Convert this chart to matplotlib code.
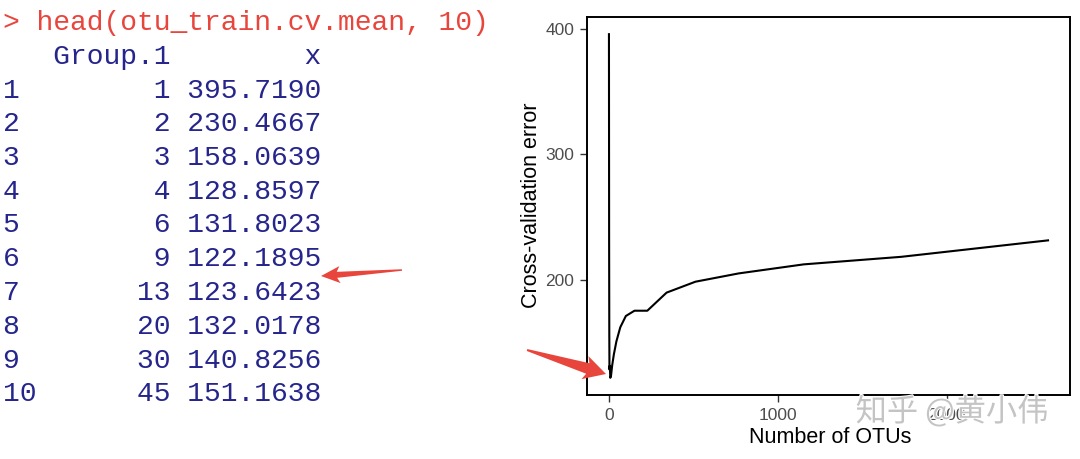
import matplotlib
matplotlib.use("Agg")
import numpy as np
import matplotlib.pyplot as plt
import matplotlib.patheffects as pe
from matplotlib.patches import Polygon

# rfcv 結果: 變量數 vs 交叉驗證誤差
n_otus = [1, 2, 3, 4, 6, 9, 13, 20, 30, 45,
          68, 101, 152, 228, 342, 513, 769, 1154, 1731, 2600]
cv_error = [395.7190, 230.4667, 158.0639, 128.8597, 131.8023, 122.1895,
            123.6423, 132.0178, 140.8256, 151.1638,
            162.4, 171.4, 175.6, 175.6, 190.0, 198.7, 205.3, 212.5, 218.5, 231.6]
n_head = 10

command = "> head(otu_train.cv.mean, 10)"
x_ticks = [0, 1000, 2000]
y_ticks = [200, 300, 400]
watermark = "知乎 @黄小伟"

W, H = 1080, 459
fig = plt.figure(figsize=(W / 100, H / 100), dpi=100)
fig.patch.set_facecolor("white")

RED = "#E8453C"
NAVY = "#25258C"
mono = "Liberation Mono"

# ---- 左邊: R 控制台輸出 ----
lines = [command, f"{'':2} {'Group.1':>7} {'x':>8}"]
for i in range(n_head):
    lines.append(f"{i + 1:<2} {n_otus[i]:>7} {cv_error[i]:>8.4f}")

for k, s in enumerate(lines):
    y = 23 + 33.75 * k
    fig.text(3 / W, 1 - y / H, s, family=mono, fontsize=20.2,
             color=RED if k == 0 else NAVY, va="center", ha="left")

# ---- 右邊: ggplot 風格折線圖 ----
ax = fig.add_axes([587 / W, 1 - 395 / H, (1070 - 587) / W, (395 - 17) / H])
ax.plot(n_otus, cv_error, color="black", linewidth=1.5)

xr = max(n_otus) - min(n_otus)
yr = max(cv_error) - min(cv_error)
ax.set_xlim(min(n_otus) - 0.05 * xr, max(n_otus) + 0.05 * xr)
ax.set_ylim(min(cv_error) - 0.05 * yr, max(cv_error) + 0.05 * yr)
ax.set_xticks(x_ticks)
ax.set_yticks(y_ticks)

for sp in ax.spines.values():
    sp.set_linewidth(1.4)
    sp.set_color("black")
ax.tick_params(length=5, width=1.0, color="#333333", labelcolor="#4D4D4D",
               labelsize=12.5, pad=4)
for lab in ax.get_xticklabels() + ax.get_yticklabels():
    lab.set_family("Liberation Sans")

ax.set_xlabel("Number of OTUs", family="Liberation Sans", fontsize=15.5, color="black")
ax.set_ylabel("Cross-validation error", family="Liberation Sans", fontsize=15.5, color="black")
ax.xaxis.set_label_coords(830 / W, 1 - 427 / H, transform=fig.transFigure)
ax.yaxis.set_label_coords(542 / W, 1 - 205 / H, transform=fig.transFigure)

# ---- 紅色箭頭 (尾部尖, 越靠近箭頭越粗) ----
def arrow(x0, y0, x1, y1, head_len, head_w, w0, w1):
    p0, p1 = np.array([x0, y0], float), np.array([x1, y1], float)
    u = (p1 - p0) / np.linalg.norm(p1 - p0)
    n = np.array([-u[1], u[0]])
    base = p1 - u * head_len
    back = base - u * 3  # 箭頭兩翼略向後掠
    pts = [p0 + n * w0 / 2, base + n * w1 / 2, back + n * head_w / 2, p1,
           back - n * head_w / 2, base - n * w1 / 2, p0 - n * w0 / 2]
    pts = [(x / W, 1 - y / H) for x, y in pts]
    fig.patches.append(Polygon(pts, closed=True, transform=fig.transFigure,
                               facecolor=RED, edgecolor="none"))

arrow(402, 270, 321, 276, 16, 17, 1.5, 6)
arrow(527, 350, 606, 374, 19, 24, 2, 11)

# 水印
fig.text(952 / W, 1 - 412 / H, watermark, fontsize=22.5, color="#C4C4C4",
         family=["Noto Sans CJK SC", "DejaVu Sans"], ha="center", va="center",
         path_effects=[pe.withStroke(linewidth=1.5, foreground="white")])

fig.savefig("out.png", dpi=100, facecolor="white")
